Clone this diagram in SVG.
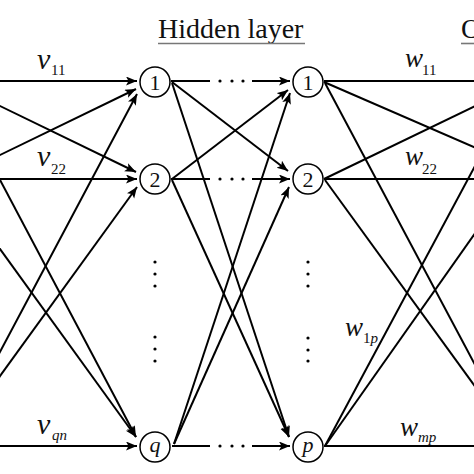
<svg xmlns="http://www.w3.org/2000/svg" width="474" height="474" viewBox="0 0 474 474">
<style>
.ln{stroke:#000;stroke-width:2;fill:none}
.ar{stroke:#000;stroke-width:2;fill:none;marker-end:url(#ah)}
.nd{fill:#fff;stroke:#000;stroke-width:1.5}
.lbl{font-family:"Liberation Serif","Times New Roman",serif;font-size:22px;fill:#111;text-anchor:middle}
.ttl{font-family:"Liberation Serif","Times New Roman",serif;font-size:28px;fill:#111}
.wt{font-family:"Liberation Serif","Times New Roman",serif;font-style:italic;font-size:27px;fill:#111}
.vt{font-family:"Liberation Serif","Times New Roman",serif;font-style:italic;font-size:30px;fill:#111}
.sb{font-family:"Liberation Serif","Times New Roman",serif;font-size:15px;fill:#111}
.dot{fill:#000}
.ul{stroke:#777;stroke-width:1.6}
</style>
<defs>
<marker id="ah" markerUnits="userSpaceOnUse" markerWidth="12" markerHeight="10" refX="11" refY="4.5" orient="auto">
<path d="M0,0 L11,4.5 L0,9 L2.5,4.5 z" fill="#000"/>
</marker>
</defs>
<rect width="474" height="474" fill="#fff"/>

<g id="title-hidden">
<text class="ttl" x="158" y="38">Hidden layer</text>
<line class="ul" x1="158" y1="43.5" x2="305" y2="43.5"/>
</g>
<g id="title-output">
<text class="ttl" x="461" y="38">O</text>
<line class="ul" x1="461" y1="43.5" x2="480" y2="43.5"/>
</g>

<g id="connectors">
<!-- input to hidden layer 1 -->
<line class="ar" x1="-10" y1="81" x2="137" y2="81"/>
<line class="ar" x1="-20" y1="96.3" x2="136" y2="172"/>
<line class="ar" x1="-20" y1="164.7" x2="136" y2="89"/>
<line class="ar" x1="-20" y1="142" x2="136" y2="437"/>
<line class="ar" x1="-20" y1="221.4" x2="136" y2="437"/>
<line class="ar" x1="-20" y1="389.6" x2="137" y2="94"/>
<line class="ar" x1="-20" y1="403.6" x2="137" y2="187"/>
<line class="ar" x1="-10" y1="179" x2="137" y2="179"/>
<line class="ar" x1="-10" y1="446" x2="137" y2="446"/>

<!-- hidden layer 1 to hidden layer 2 -->
<line class="ln" x1="171" y1="81" x2="210" y2="81"/>
<line class="ar" x1="252" y1="81" x2="290" y2="81"/>
<line class="ln" x1="171" y1="179" x2="210" y2="179"/>
<line class="ar" x1="252" y1="179" x2="290" y2="179"/>
<line class="ln" x1="172" y1="446" x2="210" y2="446"/>
<line class="ar" x1="252" y1="446" x2="290" y2="446"/>
<line class="ar" x1="172" y1="82" x2="288" y2="171"/>
<line class="ar" x1="172" y1="83" x2="289" y2="437"/>
<line class="ar" x1="172" y1="179" x2="288" y2="90"/>
<line class="ar" x1="172" y1="180" x2="289" y2="437"/>
<line class="ar" x1="174" y1="444" x2="290" y2="93"/>
<line class="ar" x1="174" y1="444" x2="289" y2="187"/>

<!-- hidden layer 2 to output -->
<line class="ln" x1="324" y1="81" x2="490" y2="81"/>
<line class="ln" x1="324" y1="82" x2="490" y2="154"/>
<line class="ln" x1="325" y1="83" x2="490" y2="393"/>
<line class="ln" x1="324" y1="179" x2="490" y2="99"/>
<line class="ln" x1="324" y1="179" x2="490" y2="179"/>
<line class="ln" x1="325" y1="180" x2="490" y2="407"/>
<line class="ln" x1="325" y1="446" x2="490" y2="138"/>
<line class="ln" x1="325" y1="446" x2="490" y2="212"/>
<line class="ln" x1="324" y1="446" x2="490" y2="446"/>
</g>

<g id="dots">
<circle class="dot" cx="220" cy="81" r="1.6"/><circle class="dot" cx="232" cy="81" r="1.6"/><circle class="dot" cx="243" cy="81" r="1.6"/>
<circle class="dot" cx="220" cy="179" r="1.6"/><circle class="dot" cx="232" cy="179" r="1.6"/><circle class="dot" cx="243" cy="179" r="1.6"/>
<circle class="dot" cx="220" cy="446" r="1.6"/><circle class="dot" cx="232" cy="446" r="1.6"/><circle class="dot" cx="243" cy="446" r="1.6"/>
<circle class="dot" cx="155" cy="262" r="1.6"/><circle class="dot" cx="155" cy="274" r="1.6"/><circle class="dot" cx="155" cy="286" r="1.6"/>
<circle class="dot" cx="155" cy="337" r="1.6"/><circle class="dot" cx="155" cy="349" r="1.6"/><circle class="dot" cx="155" cy="361" r="1.6"/>
<circle class="dot" cx="308" cy="262" r="1.6"/><circle class="dot" cx="308" cy="274" r="1.6"/><circle class="dot" cx="308" cy="286" r="1.6"/>
<circle class="dot" cx="308" cy="338" r="1.6"/><circle class="dot" cx="308" cy="350" r="1.6"/><circle class="dot" cx="308" cy="361" r="1.6"/>
</g>

<g id="h1-1"><circle class="nd" cx="155" cy="82" r="15"/><text class="lbl" x="155" y="90">1</text></g>
<g id="h1-2"><circle class="nd" cx="155" cy="179" r="15"/><text class="lbl" x="155" y="187">2</text></g>
<g id="h1-q"><circle class="nd" cx="155" cy="447" r="15"/><text class="lbl" x="155" y="452" font-style="italic">q</text></g>
<g id="h2-1"><circle class="nd" cx="308" cy="82" r="15"/><text class="lbl" x="308" y="90">1</text></g>
<g id="h2-2"><circle class="nd" cx="308" cy="179" r="15"/><text class="lbl" x="308" y="187">2</text></g>
<g id="h2-p"><circle class="nd" cx="308" cy="447" r="15"/><text class="lbl" x="308" y="452" font-style="italic">p</text></g>

<g id="labels">
<text x="37" y="69"><tspan class="vt">v</tspan><tspan class="sb" x="51" y="75">11</tspan></text>
<text x="37" y="166"><tspan class="vt">v</tspan><tspan class="sb" x="51" y="174">22</tspan></text>
<text x="37" y="434"><tspan class="vt">v</tspan><tspan class="sb" x="52" y="440" font-style="italic">qn</tspan></text>
<text x="405" y="67"><tspan class="wt">w</tspan><tspan class="sb" x="422" y="75">11</tspan></text>
<text x="405" y="165"><tspan class="wt">w</tspan><tspan class="sb" x="422" y="174">22</tspan></text>
<text x="345" y="336"><tspan class="wt">w</tspan><tspan class="sb" x="363" y="343">1</tspan><tspan class="sb" font-style="italic">p</tspan></text>
<text x="400" y="436"><tspan class="wt">w</tspan><tspan class="sb" x="418" y="442" font-style="italic">mp</tspan></text>
</g>
</svg>
